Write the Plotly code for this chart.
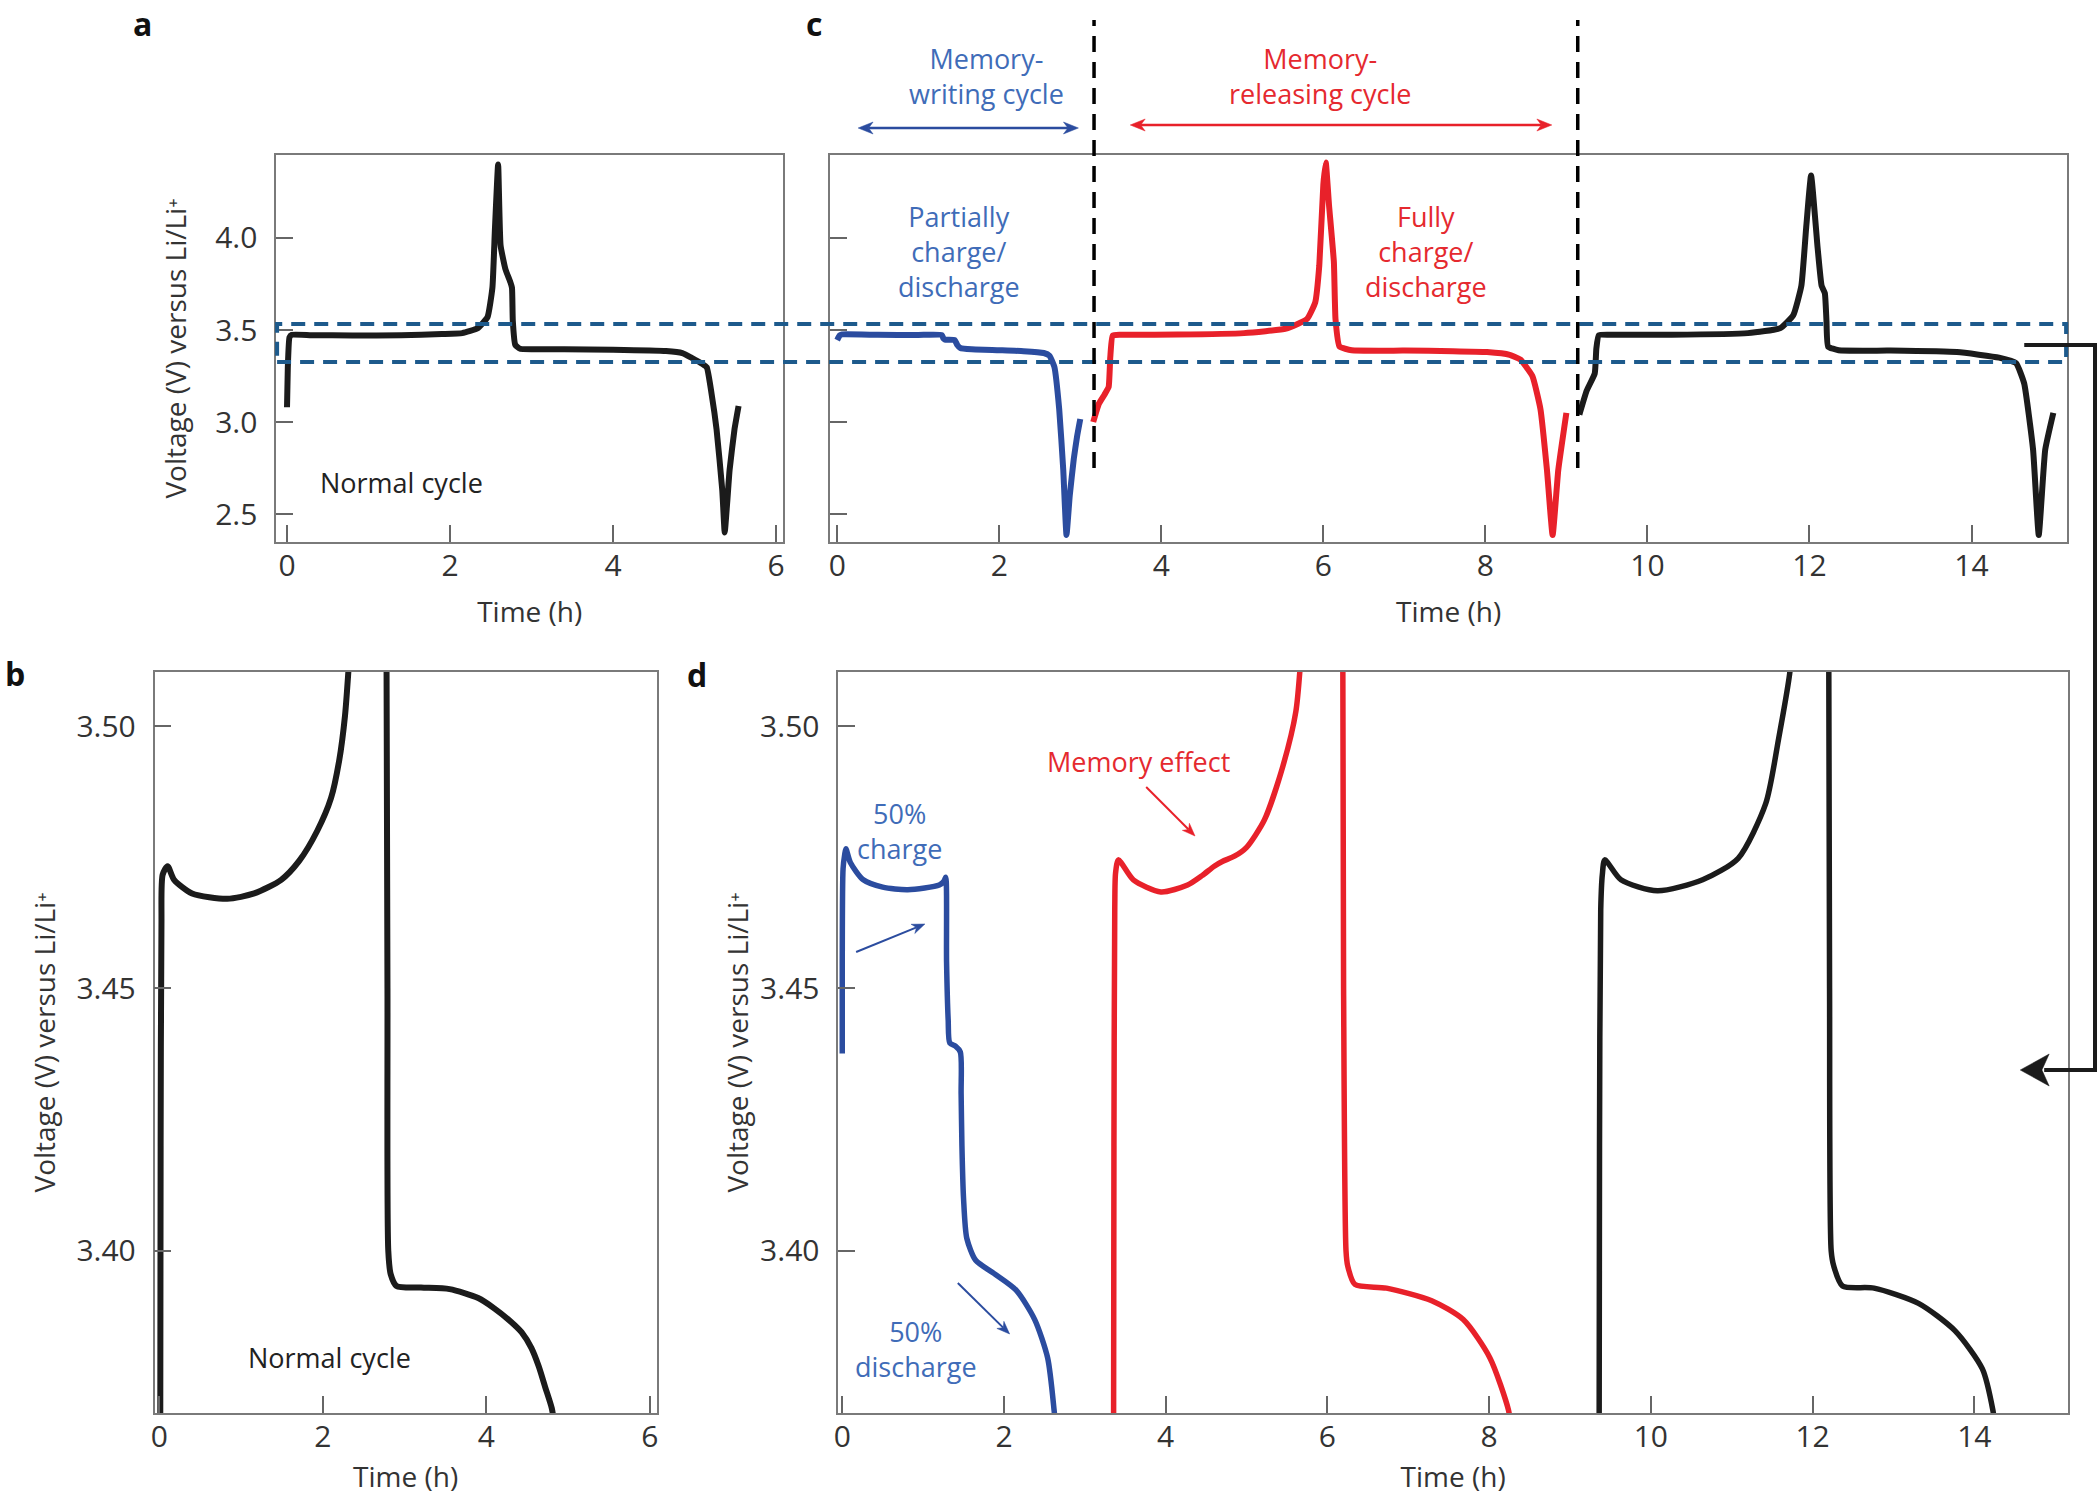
import math
import plotly.graph_objects as go

W, H = 2100, 1495
def PX(x):
    return x / W
def PY(y):
    return 1 - y / H

# ---------------- data ----------------
# Panel a: normal cycle (full voltage window)
a_time = [0.00, 0.01, 0.03, 0.06, 0.3, 0.8, 1.4, 1.9, 2.15, 2.34, 2.46, 2.52, 2.55, 2.59, 2.62,
          2.68, 2.74, 2.76, 2.77, 2.80, 2.86, 3.4, 4.0, 4.65, 4.85, 4.96, 5.08, 5.15, 5.21, 5.27,
          5.34, 5.37, 5.40, 5.43, 5.49, 5.54]
a_volt = [3.08, 3.30, 3.46, 3.474, 3.472, 3.470, 3.472, 3.478, 3.483, 3.51, 3.57, 3.73, 4.04, 4.40, 3.96,
          3.83, 3.76, 3.73, 3.55, 3.42, 3.398, 3.396, 3.393, 3.386, 3.375, 3.35, 3.32, 3.297, 3.15, 2.96,
          2.63, 2.40, 2.56, 2.74, 2.96, 3.087]

# Panel c: memory-writing (blue), memory-releasing (red), normal (black)
cb_time = [0.0, 0.03, 0.06, 0.5, 1.0, 1.29, 1.31, 1.33, 1.45, 1.48, 1.52, 1.66, 2.0, 2.3, 2.55, 2.62,
           2.68, 2.74, 2.79, 2.83, 2.87, 2.92, 2.96, 3.0]
cb_volt = [3.445, 3.47, 3.476, 3.474, 3.473, 3.473, 3.455, 3.448, 3.446, 3.42, 3.402, 3.395, 3.39, 3.385,
           3.375, 3.36, 3.30, 3.07, 2.74, 2.386, 2.60, 2.80, 2.92, 3.016]

cr_time = [3.16, 3.20, 3.23, 3.30, 3.35, 3.37, 3.40, 3.5, 4.2, 5.02, 5.54, 5.8, 5.9, 5.95, 6.0, 6.03,
           6.07, 6.13, 6.15, 6.2, 6.35, 7.0, 7.6, 8.02, 8.3, 8.43, 8.58, 8.68, 8.76, 8.83, 8.90, 9.0]
cr_volt = [3.0, 3.06, 3.1, 3.15, 3.19, 3.35, 3.47, 3.474, 3.475, 3.483, 3.507, 3.56, 3.65, 3.85, 4.29,
           4.41, 4.18, 3.87, 3.56, 3.41, 3.39, 3.388, 3.385, 3.38, 3.365, 3.34, 3.25, 3.07, 2.74, 2.386,
           2.74, 3.05]

ck_time = [9.16, 9.25, 9.35, 9.37, 9.40, 9.6, 10.3, 11.24, 11.64, 11.8, 11.9, 11.96, 12.02, 12.10,
           12.15, 12.19, 12.21, 12.23, 12.36, 13.0, 13.82, 14.34, 14.55, 14.65, 14.76, 14.83, 14.91, 15.01]
ck_volt = [3.04, 3.17, 3.264, 3.40, 3.472, 3.474, 3.474, 3.483, 3.51, 3.58, 3.74, 4.06, 4.34, 3.95,
           3.74, 3.70, 3.55, 3.41, 3.39, 3.388, 3.38, 3.35, 3.32, 3.21, 2.85, 2.386, 2.85, 3.05]

# Panel b: normal cycle, zoomed voltage window
b_time = [0.01, 0.015, 0.025, 0.04, 0.1, 0.18, 0.4, 0.83, 1.16, 1.49, 1.71, 1.93, 2.1, 2.2, 2.27,
          2.31, 2.33, None, 2.778, 2.79, 2.80, 2.83, 2.90, 3.2, 3.55, 3.9, 4.1, 4.3, 4.43, 4.55, 4.64,
          4.72, 4.80, 4.83]
b_volt = [3.36, 3.42, 3.462, 3.4717, 3.4733, 3.4707, 3.4681, 3.4671, 3.4681, 3.4707, 3.4743, 3.48,
          3.4863, 3.4935, 3.5019, 3.510, 3.515, None, 3.515, 3.45, 3.40, 3.3955, 3.3933, 3.393, 3.3927,
          3.391, 3.389, 3.3865, 3.3845, 3.3815, 3.378, 3.374, 3.370, 3.367]

# Panel d: zoomed window of panel c
db_time = [0.0, 0.0, 0.01, 0.03, 0.045, 0.1, 0.26, 0.5, 0.81, 1.2, 1.26, 1.28, 1.29, 1.31, 1.33, 1.40,
           1.46, 1.47, 1.48, 1.50, 1.54, 1.65, 1.875, 2.15, 2.38, 2.54, 2.62, 2.64]
db_volt = [3.4376, 3.455, 3.4728, 3.4755, 3.4766, 3.474, 3.4707, 3.4693, 3.4688, 3.4697, 3.4705, 3.4712,
           3.455, 3.444, 3.4396, 3.439, 3.4379, 3.43, 3.42, 3.41, 3.4024, 3.3982, 3.3957, 3.3925, 3.3869,
           3.3796, 3.3696, 3.366]

dr_time = [3.355, 3.36, 3.37, 3.38, 3.415, 3.6, 3.94, 4.27, 4.45, 4.6, 4.7, 4.85, 5.0, 5.22, 5.45,
           5.61, 5.68, None, 6.19, 6.20, 6.23, 6.25, 6.34, 6.73, 7.29, 7.68, 8.01, 8.24, 8.27]
dr_volt = [3.36, 3.42, 3.465, 3.472, 3.4745, 3.4707, 3.4684, 3.4697, 3.4715, 3.4733, 3.4742, 3.4752,
           3.4769, 3.4821, 3.4924, 3.5028, 3.515, None, 3.515, 3.45, 3.40, 3.3972, 3.3936, 3.3929,
           3.3905, 3.3869, 3.3796, 3.3696, 3.366]

dk_time = [9.36, 9.365, 9.38, 9.40, 9.43, 9.63, 10.08, 10.64, 11.08, 11.42, 11.58, 11.72, 11.74, None,
           12.20, 12.21, 12.23, 12.26, 12.37, 12.76, 13.31, 13.76, 14.1, 14.23, 14.26]
dk_volt = [3.36, 3.42, 3.465, 3.4717, 3.4745, 3.4707, 3.4686, 3.4707, 3.4748, 3.4852, 3.4976, 3.5104,
           3.515, None, 3.515, 3.45, 3.40, 3.3972, 3.3933, 3.3929, 3.39, 3.3848, 3.3775, 3.3696, 3.366]

# reference lines / dividers
plateau_band = [3.326, 3.533]       # dashed window (V)
cycle_dividers = [3.17, 9.14]       # dashed vertical dividers in c (h)

x_ticks_short = [0, 2, 4, 6]
x_ticks_long = [0, 2, 4, 6, 8, 10, 12, 14]
y_ticks_full = [2.5, 3.0, 3.5, 4.0]
y_ticks_zoom = [3.40, 3.45, 3.50]

# ---------------- styles ----------------
BLACK = "#1b1b1b"
BLUE = "#2b4c9f"
RED = "#e8212a"
BLUE_T = "#3f6cb8"
RED_T = "#e5292f"
DASH_BLUE = "#1d5a8c"
FONT = "Open Sans"

fig = go.Figure()

def add_line(x, y, color, xa, ya, width, smoothing):
    fig.add_trace(go.Scatter(x=x, y=y, mode="lines", xaxis=xa, yaxis=ya,
                             line=dict(color=color, width=width, shape="spline",
                                       smoothing=smoothing),
                             showlegend=False, connectgaps=False, hoverinfo="skip"))

add_line(a_time, a_volt, BLACK, "x", "y", 6, 0.4)
add_line(cb_time, cb_volt, BLUE, "x2", "y2", 6, 0.4)
add_line(cr_time, cr_volt, RED, "x2", "y2", 6, 0.4)
add_line(ck_time, ck_volt, BLACK, "x2", "y2", 6, 0.4)
add_line(b_time, b_volt, BLACK, "x3", "y3", 6, 0.7)
add_line(db_time, db_volt, BLUE, "x4", "y4", 5.5, 0.7)
add_line(dr_time, dr_volt, RED, "x4", "y4", 5.5, 0.7)
add_line(dk_time, dk_volt, BLACK, "x4", "y4", 5.5, 0.7)

axis_common = dict(showline=True, mirror=True, linecolor="#7a7a7a", linewidth=1.5,
                   ticks="inside", ticklen=17, tickwidth=1.5, tickcolor="#666666",
                   showgrid=False, zeroline=False,
                   tickfont=dict(family=FONT, size=30, color="#333333"))
xcommon = dict(axis_common, ticklabelstandoff=-4)
ycommon = dict(axis_common, ticklabelstandoff=11)

ytitle = "Voltage (V) versus Li/Li⁺"
title_font = dict(family=FONT, size=28, color="#333333")

fig.update_layout(
    width=W, height=H, margin=dict(l=0, r=0, t=0, b=0),
    paper_bgcolor="white", plot_bgcolor="white",
    font=dict(family=FONT), hovermode=False,
    xaxis=dict(xcommon, domain=[PX(272), PX(781)], range=[-0.134, 6.09], anchor="y",
               tickvals=x_ticks_short,
               title=dict(text="Time (h)", font=title_font, standoff=19)),
    yaxis=dict(ycommon, domain=[PY(542), PY(155)], range=[2.348, 4.451], anchor="x",
               tickvals=y_ticks_full, tickformat=".1f",
               title=dict(text=ytitle, font=title_font, standoff=20)),
    xaxis2=dict(xcommon, domain=[PX(828), PX(2069)], range=[-0.086, 15.18], anchor="y2",
                tickvals=x_ticks_long,
                title=dict(text="Time (h)", font=title_font, standoff=19)),
    yaxis2=dict(ycommon, domain=[PY(542), PY(155)], range=[2.348, 4.451], anchor="x2",
                tickvals=y_ticks_full, showticklabels=False),
    xaxis3=dict(xcommon, domain=[PX(150), PX(654)], range=[-0.06, 6.085], anchor="y3",
                tickvals=x_ticks_short,
                title=dict(text="Time (h)", font=title_font, standoff=18)),
    yaxis3=dict(ycommon, domain=[PY(1413), PY(672)], range=[3.3691, 3.5103], anchor="x3",
                tickvals=y_ticks_zoom, tickformat=".2f",
                title=dict(text=ytitle, font=title_font, standoff=13)),
    xaxis4=dict(xcommon, domain=[PX(836), PX(2070)], range=[-0.05, 15.16], anchor="y4",
                tickvals=x_ticks_long,
                title=dict(text="Time (h)", font=title_font, standoff=18)),
    yaxis4=dict(ycommon, domain=[PY(1413), PY(672)], range=[3.3691, 3.5103], anchor="x4",
                tickvals=y_ticks_zoom, tickformat=".2f",
                title=dict(text=ytitle, font=title_font, standoff=3)),
)

shapes = []
# dashed voltage window spanning panels a and c
shapes.append(dict(type="rect", xref="paper", yref="y", x0=PX(273), x1=PX(2068),
                   y0=plateau_band[0], y1=plateau_band[1],
                   line=dict(color=DASH_BLUE, width=4, dash="14px,9px"), layer="above"))
# dashed vertical dividers in c
for t in cycle_dividers:
    shapes.append(dict(type="line", xref="x2", yref="paper", x0=t, x1=t, y0=PY(468), y1=PY(20),
                       line=dict(color="black", width=3.5, dash="16px,10px")))

def pth(points):
    return "M " + " L ".join(f"{PX(x):.5f},{PY(y):.5f}" for x, y in points) + " Z"

def head(tip, tail, color, hl, hw, notch=0.3):
    ux, uy = tip[0] - tail[0], tip[1] - tail[1]
    n = math.hypot(ux, uy)
    ux, uy = ux / n, uy / n
    bx, by = tip[0] - hl * ux, tip[1] - hl * uy
    nx, ny = -uy, ux
    pts = [tip, (bx + hw * nx, by + hw * ny), (bx + notch * hl * ux, by + notch * hl * uy),
           (bx - hw * nx, by - hw * ny)]
    shapes.append(dict(type="path", xref="paper", yref="paper", path=pth(pts),
                       fillcolor=color, line=dict(color=color, width=0.5)))
    return (bx + notch * hl * ux, by + notch * hl * uy)

def seg(p0, p1, color, width):
    shapes.append(dict(type="line", xref="paper", yref="paper", x0=PX(p0[0]), y0=PY(p0[1]),
                       x1=PX(p1[0]), y1=PY(p1[1]), line=dict(color=color, width=width)))

def arrow(tip, tail, color, width, hl, hw):
    b = head(tip, tail, color, hl, hw)
    seg(tail, b, color, width)

def double_arrow(p0, p1, color, width, hl, hw):
    b0 = head(p0, p1, color, hl, hw)
    b1 = head(p1, p0, color, hl, hw)
    seg(b0, b1, color, width)

double_arrow((856, 128), (1077, 128), BLUE, 2.5, 15, 6)
double_arrow((1129, 125), (1552, 125), RED, 2.5, 15, 6)
arrow((923, 924), (854, 952), BLUE, 2, 13, 5)
arrow((1008, 1334), (956, 1283), BLUE, 2, 13, 5)
arrow((1194, 836), (1145, 787), RED, 2, 13, 5)

# connector from c to d
shapes.append(dict(type="path", xref="paper", yref="paper",
                   path=f"M {PX(2026)},{PY(345)} L {PX(2097)},{PY(345)} L {PX(2097)},{PY(1070)} L {PX(2046)},{PY(1070)}",
                   line=dict(color=BLACK, width=4)))
head((2022, 1070), (2097, 1070), BLACK, 29, 16, 0.25)

fig.update_layout(shapes=shapes)

ann = []
def text(x, y, s, color, size=27, bold=False):
    ann.append(dict(x=x, y=y, xref="paper", yref="paper", text=(f"<b>{s}</b>" if bold else s),
                    showarrow=False, xanchor="center", yanchor="middle",
                    font=dict(family=FONT, size=size, color=color)))

# panel labels
text(PX(138), PY(24), "a", "#111111", 32, bold=True)
text(PX(812), PY(24), "c", "#111111", 32, bold=True)
text(PX(10), PY(673), "b", "#111111", 32, bold=True)
text(PX(694), PY(674), "d", "#111111", 32, bold=True)

text(PX(985), PY(76), "Memory-<br>writing cycle", BLUE_T)
text(PX(1319), PY(76), "Memory-<br>releasing cycle", RED_T)
text(PX(957), PY(251), "Partially<br>charge/<br>discharge", BLUE_T)
text(PX(1426), PY(251), "Fully<br>charge/<br>discharge", RED_T)
text(PX(398), PY(482), "Normal cycle", "#222222")
text(PX(326), PY(1357), "Normal cycle", "#222222")
text(PX(897), PY(831), "50%<br>charge", BLUE_T)
text(PX(914), PY(1349), "50%<br>discharge", BLUE_T)
text(PX(1137), PY(761), "Memory effect", RED_T)

fig.update_layout(annotations=ann)

fig.write_html("out.html", config={"displayModeBar": False},
               post_script="document.body.style.margin='0px';")
